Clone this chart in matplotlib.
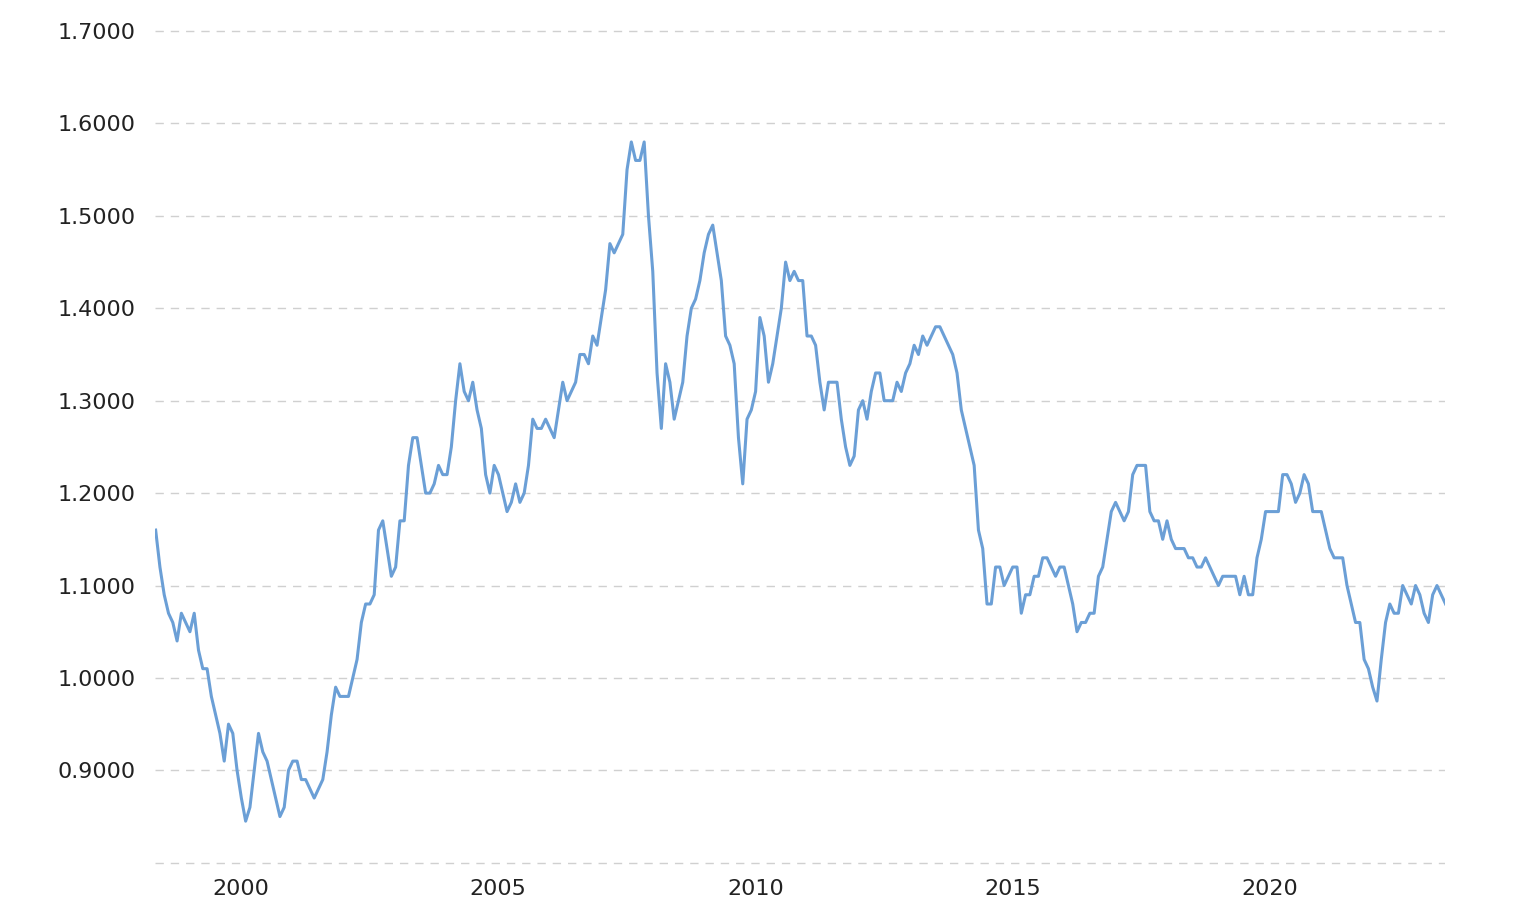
import numpy as np
import matplotlib.pyplot as plt

# monthly closes, first point at 1998.33 on the chart's time axis
start = 1998.34
rates = [
    1.16, 1.12, 1.09, 1.07, 1.06, 1.04, 1.07, 1.06, 1.05, 1.07, 1.03, 1.01,
    1.01, 0.98, 0.96, 0.94, 0.91, 0.95, 0.94, 0.90, 0.87, 0.845, 0.86, 0.90,
    0.94, 0.92, 0.91, 0.89, 0.87, 0.85, 0.86, 0.90, 0.91, 0.91, 0.89, 0.89,
    0.88, 0.87, 0.88, 0.89, 0.92, 0.96, 0.99, 0.98, 0.98, 0.98, 1.00, 1.02,
    1.06, 1.08, 1.08, 1.09, 1.16, 1.17, 1.14, 1.11, 1.12, 1.17, 1.17, 1.23,
    1.26, 1.26, 1.23, 1.20, 1.20, 1.21, 1.23, 1.22, 1.22, 1.25, 1.30, 1.34,
    1.31, 1.30, 1.32, 1.29, 1.27, 1.22, 1.20, 1.23, 1.22, 1.20, 1.18, 1.19,
    1.21, 1.19, 1.20, 1.23, 1.28, 1.27, 1.27, 1.28, 1.27, 1.26, 1.29, 1.32,
    1.30, 1.31, 1.32, 1.35, 1.35, 1.34, 1.37, 1.36, 1.39, 1.42, 1.47, 1.46,
    1.47, 1.48, 1.55, 1.58, 1.56, 1.56, 1.58, 1.50, 1.44, 1.33, 1.27, 1.34,
    1.32, 1.28, 1.30, 1.32, 1.37, 1.40, 1.41, 1.43, 1.46, 1.48, 1.49, 1.46,
    1.43, 1.37, 1.36, 1.34, 1.26, 1.21, 1.28, 1.29, 1.31, 1.39, 1.37, 1.32,
    1.34, 1.37, 1.40, 1.45, 1.43, 1.44, 1.43, 1.43, 1.37, 1.37, 1.36, 1.32,
    1.29, 1.32, 1.32, 1.32, 1.28, 1.25, 1.23, 1.24, 1.29, 1.30, 1.28, 1.31,
    1.33, 1.33, 1.30, 1.30, 1.30, 1.32, 1.31, 1.33, 1.34, 1.36, 1.35, 1.37,
    1.36, 1.37, 1.38, 1.38, 1.37, 1.36, 1.35, 1.33, 1.29, 1.27, 1.25, 1.23,
    1.16, 1.14, 1.08, 1.08, 1.12, 1.12, 1.10, 1.11, 1.12, 1.12, 1.07, 1.09,
    1.09, 1.11, 1.11, 1.13, 1.13, 1.12, 1.11, 1.12, 1.12, 1.10, 1.08, 1.05,
    1.06, 1.06, 1.07, 1.07, 1.11, 1.12, 1.15, 1.18, 1.19, 1.18, 1.17, 1.18,
    1.22, 1.23, 1.23, 1.23, 1.18, 1.17, 1.17, 1.15, 1.17, 1.15, 1.14, 1.14,
    1.14, 1.13, 1.13, 1.12, 1.12, 1.13, 1.12, 1.11, 1.10, 1.11, 1.11, 1.11,
    1.11, 1.09, 1.11, 1.09, 1.09, 1.13, 1.15, 1.18, 1.18, 1.18, 1.18, 1.22,
    1.22, 1.21, 1.19, 1.20, 1.22, 1.21, 1.18, 1.18, 1.18, 1.16, 1.14, 1.13,
    1.13, 1.13, 1.10, 1.08, 1.06, 1.06, 1.02, 1.01, 0.99, 0.975, 1.02, 1.06,
    1.08, 1.07, 1.07, 1.10, 1.09, 1.08, 1.10, 1.09, 1.07, 1.06, 1.09, 1.10,
    1.09, 1.08,
]
years = start + np.arange(len(rates)) / 12.0
y_ticks = [0.9, 1.0, 1.1, 1.2, 1.3, 1.4, 1.5, 1.6, 1.7]
x_ticks = [2000, 2005, 2010, 2015, 2020]

fig = plt.figure(figsize=(15.36, 9.13), dpi=100)
ax = fig.add_axes([0.101, 0.052, 0.84, 0.916])
ax.plot(years, rates, color='#6b9fd6', linewidth=2.2)

ax.set_xlim(1998.33, 2023.42)
ax.set_ylim(0.797, 1.702)
ax.set_yticks([0.8] + y_ticks)
ax.set_yticklabels([''] + ['%.4f' % v for v in y_ticks])
ax.set_xticks(x_ticks)
ax.grid(axis='y', color='#d0d0d0', linestyle=(0, (6, 5)), linewidth=1)
for s in ax.spines.values():
    s.set_visible(False)
ax.tick_params(length=0, labelsize=16, colors='#222222')
ax.tick_params(axis='y', pad=14)
ax.tick_params(axis='x', pad=10)

fig.savefig('out.png')
